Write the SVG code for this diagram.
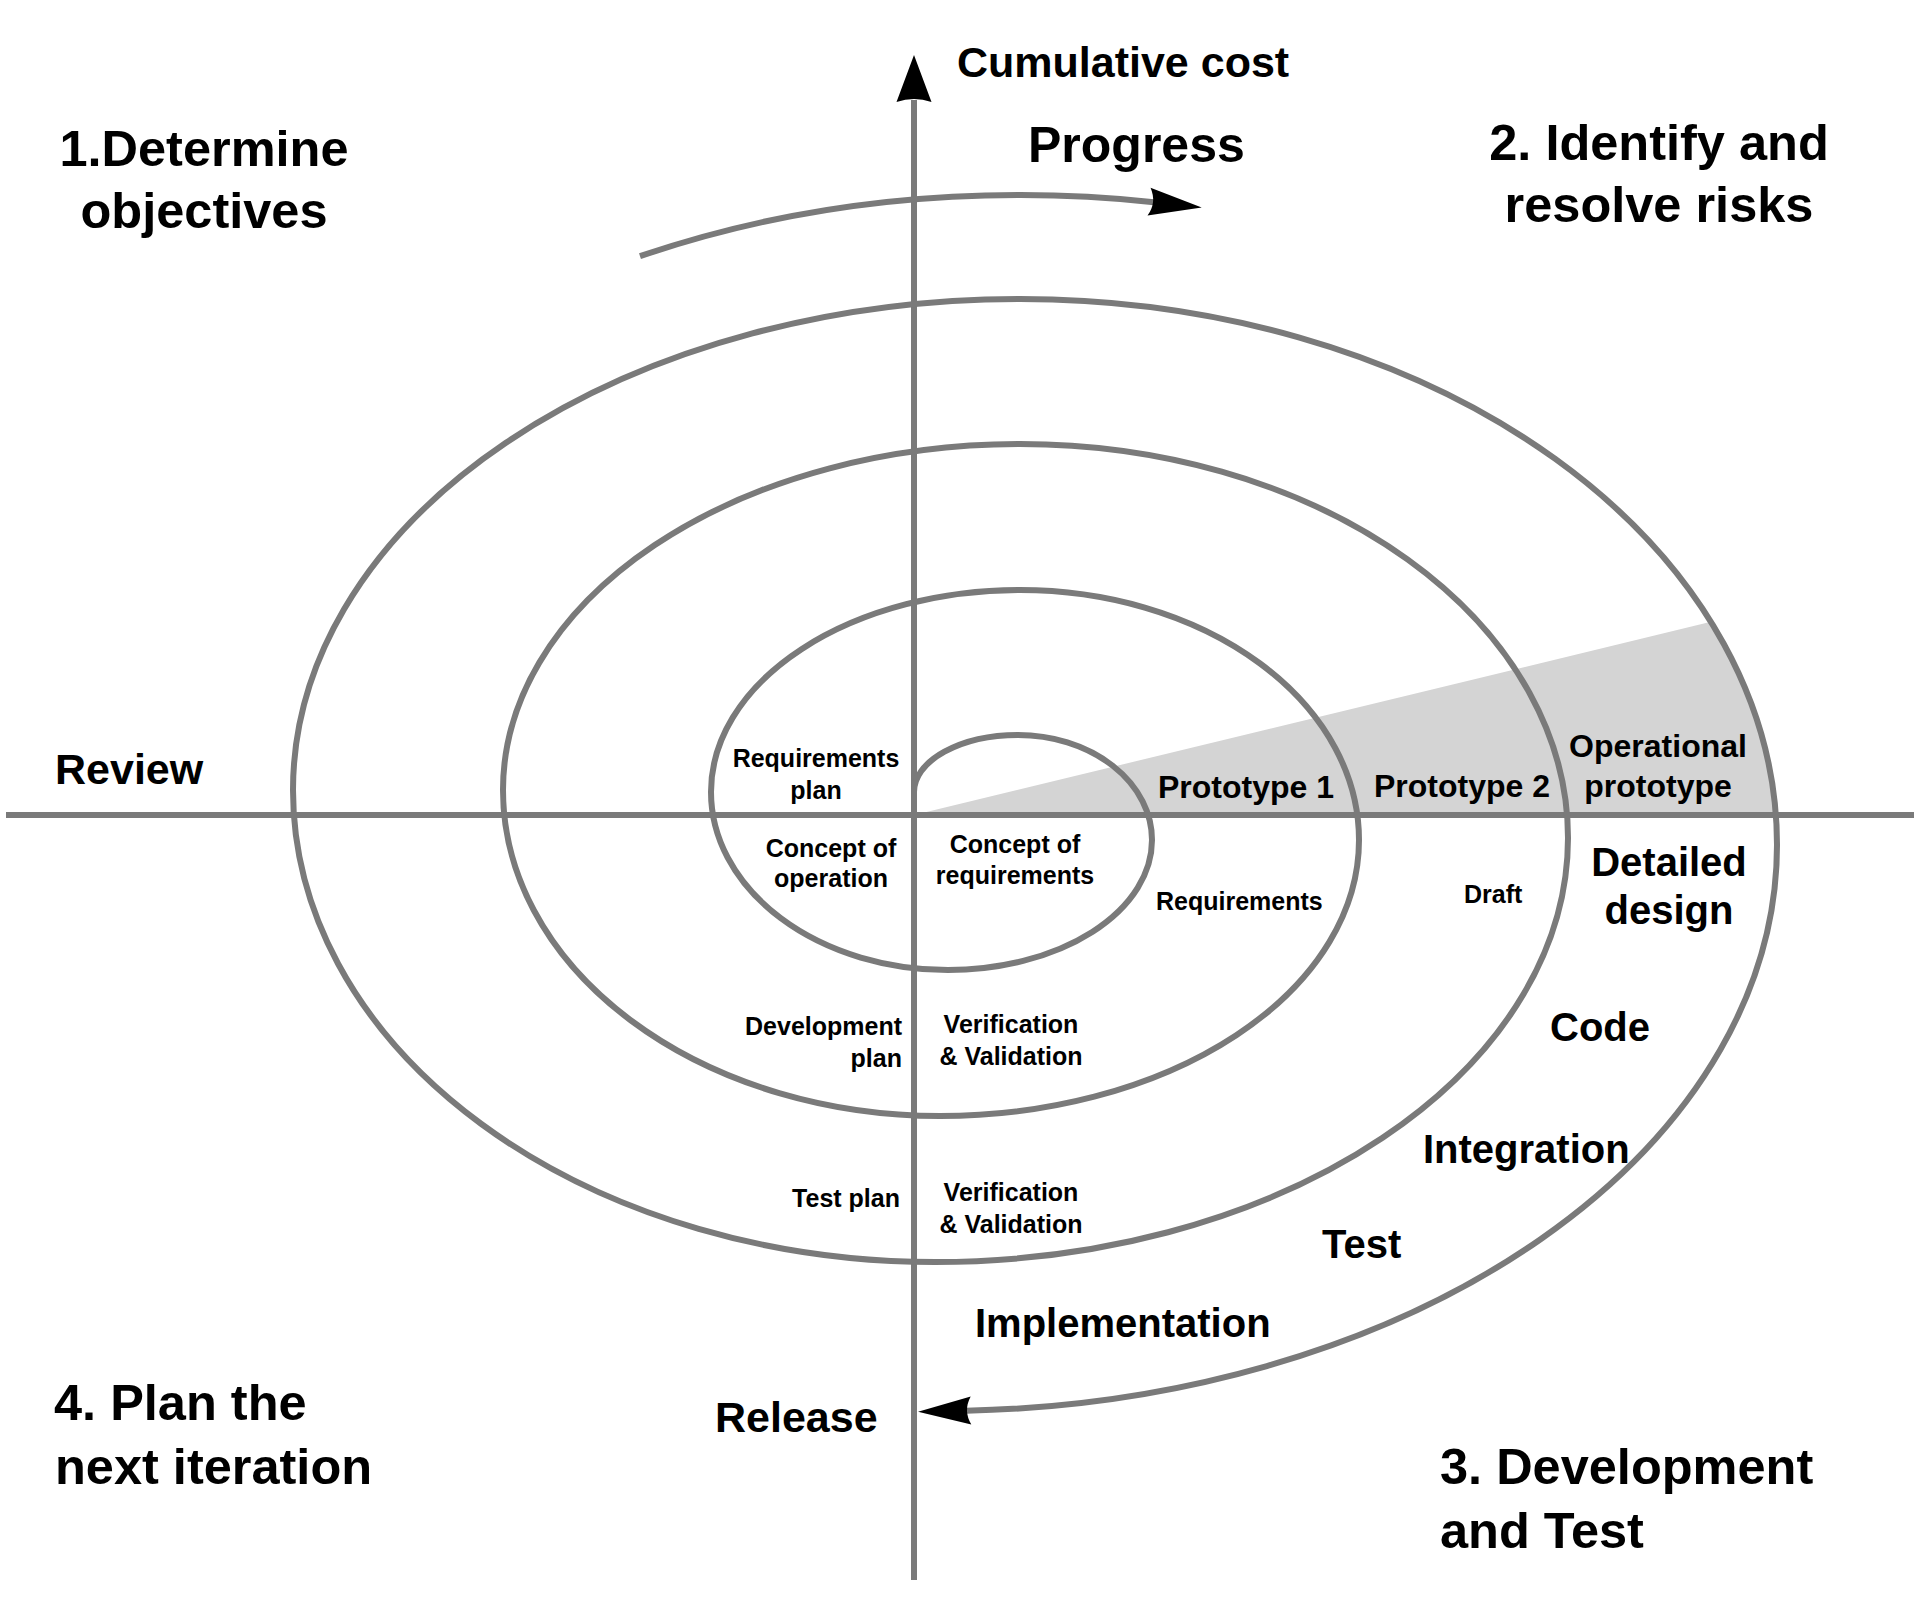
<svg xmlns="http://www.w3.org/2000/svg" width="1920" height="1600" viewBox="0 0 1920 1600">
  <style>
    .ln { fill: none; stroke: #7a7a7a; stroke-width: 6; }
    .t { font-family: "Liberation Sans", Arial, sans-serif; font-weight: bold; fill: #000; }
    .xl { font-size: 50.5px; }
    .lg { font-size: 43px; }
    .md { font-size: 40px; }
    .sm { font-size: 32px; }
    .xs { font-size: 25px; }
    .mid { text-anchor: middle; }
    .end { text-anchor: end; }
  </style>
  <defs>
    <marker id="arrowAxis" viewBox="-10 -20 60 40" markerWidth="60" markerHeight="40" refX="0" refY="0" orient="auto" markerUnits="userSpaceOnUse">
      <path d="M 45 0 L -2 -17.5 Q 4 0 -2 17.5 Z" fill="#000"/>
    </marker>
    <marker id="arrowCurve" viewBox="-10 -16 62 32" markerWidth="62" markerHeight="32" refX="0" refY="0" orient="auto" markerUnits="userSpaceOnUse">
      <path d="M 48 0 L -5 -14 Q 3 0 -5 14 Z" fill="#000"/>
    </marker>
  </defs>
  <rect width="1920" height="1600" fill="#fff"/>

  <g id="prototype-wedge">
    <path d="M 914 815 L 1711 621.8 A 757 546 0 0 1 1775.9 815 Z" fill="#d4d4d4"/>
  </g>

  <g id="connectors">
    <path id="x-axis" class="ln" d="M 6 815 L 1914 815"/>
    <path id="y-axis" class="ln" d="M 914 1580 L 914 100" marker-end="url(#arrowAxis)"/>
    <path id="spiral" class="ln" d="M 914 792 A 104 57 0 0 1 1018 735 A 134 105 0 0 1 1152 840 A 204 130 0 0 1 948 970 A 237 178 0 0 1 711 792 A 309 202 0 0 1 1020 590 A 339 250 0 0 1 1359 840 A 419 276 0 0 1 940 1116 A 437 326 0 0 1 503 790 A 517 346 0 0 1 1020 444 A 548 394 0 0 1 1568 838 A 633 424 0 0 1 935 1262 A 642 472 0 0 1 293 790 A 727 491 0 0 1 1020 299 A 757 546 0 0 1 1777 845 A 837 566 0 0 1 966 1410.7" marker-end="url(#arrowCurve)"/>
    <path id="progress-arrow" class="ln" d="M 640 256.2 A 850 580 0 0 1 1020 195 A 850 580 0 0 1 1154 202.2" marker-end="url(#arrowCurve)"/>
  </g>

  <g id="determine-objectives"><text class="t xl mid" x="204" y="166">1.Determine</text><text class="t xl mid" x="204" y="228">objectives</text></g>
  <g id="identify-risks"><text class="t xl mid" x="1659" y="160">2. Identify and</text><text class="t xl mid" x="1659" y="222">resolve risks</text></g>
  <g id="plan-next"><text class="t xl" x="54" y="1420">4. Plan the</text><text class="t xl" x="55" y="1484">next iteration</text></g>
  <g id="development-test"><text class="t xl" x="1440" y="1484">3. Development</text><text class="t xl" x="1440" y="1548">and Test</text></g>

  <g id="cumulative-cost"><text class="t lg" x="957" y="77">Cumulative cost</text></g>
  <g id="progress"><text class="t" font-size="50" x="1028" y="162">Progress</text></g>
  <g id="review"><text class="t lg" x="55" y="784">Review</text></g>
  <g id="release"><text class="t lg" x="715" y="1432">Release</text></g>

  <g id="implementation"><text class="t md" x="975" y="1337">Implementation</text></g>
  <g id="test"><text class="t md" x="1322" y="1258">Test</text></g>
  <g id="integration"><text class="t md" x="1423" y="1163">Integration</text></g>
  <g id="code"><text class="t md" x="1550" y="1041">Code</text></g>
  <g id="detailed-design"><text class="t md mid" x="1669" y="876">Detailed</text><text class="t md mid" x="1669" y="924">design</text></g>

  <g id="prototype-1"><text class="t sm" x="1158" y="798">Prototype 1</text></g>
  <g id="prototype-2"><text class="t sm" x="1374" y="797">Prototype 2</text></g>
  <g id="operational-prototype"><text class="t sm mid" x="1658" y="757">Operational</text><text class="t sm mid" x="1658" y="797">prototype</text></g>

  <g id="requirements"><text class="t xs" x="1156" y="910">Requirements</text></g>
  <g id="draft"><text class="t xs" x="1464" y="903">Draft</text></g>
  <g id="concept-of-requirements"><text class="t xs mid" x="1015" y="853">Concept of</text><text class="t xs mid" x="1015" y="884">requirements</text></g>
  <g id="requirements-plan"><text class="t xs mid" x="816" y="767">Requirements</text><text class="t xs mid" x="816" y="799">plan</text></g>
  <g id="concept-of-operation"><text class="t xs mid" x="831" y="857">Concept of</text><text class="t xs mid" x="831" y="887">operation</text></g>
  <g id="development-plan"><text class="t xs end" x="902" y="1035">Development</text><text class="t xs end" x="902" y="1067">plan</text></g>
  <g id="verification-validation-1"><text class="t xs mid" x="1011" y="1033">Verification</text><text class="t xs mid" x="1011" y="1065">&amp; Validation</text></g>
  <g id="test-plan"><text class="t xs end" x="900" y="1207">Test plan</text></g>
  <g id="verification-validation-2"><text class="t xs mid" x="1011" y="1201">Verification</text><text class="t xs mid" x="1011" y="1233">&amp; Validation</text></g>
</svg>
